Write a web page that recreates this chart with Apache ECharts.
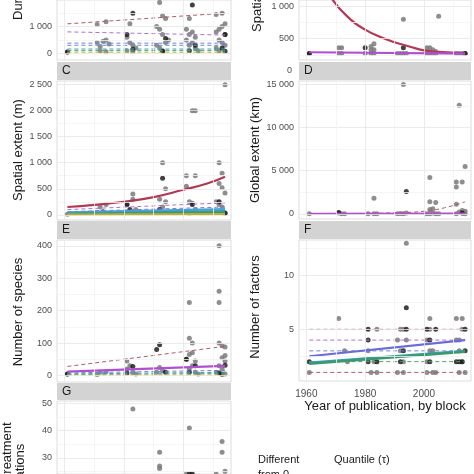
<!DOCTYPE html>
<html>
<head>
<meta charset="utf-8">
<script src="https://cdn.jsdelivr.net/npm/echarts@6/dist/echarts.min.js"></script>
<style>html,body{margin:0;padding:0;background:#fff}#chart{width:474px;height:474px}</style>
</head>
<body>
<div id="chart"></div>
<script>
// panel data: [year, value]
const durGray = [[1961,50],[1971,1080],[1974,1180],[1971,400],[1972,250],[1973,450],[1974,500],[1975,350],[1972,100],[1974,60],
  [1982,1100],[1981,600],[1982,400],[1983,300],[1984,200],[1981,100],[1983,60],[1992,1900],[1993,1400],[1994,1300],[1991,1000],[1992,900],[1993,700],[1995,500],[1994,400],[1991,300],[1992,200],[1993,100],
  [2002,1300],[2001,900],[2003,800],[2002,700],[2004,600],[2001,500],[2003,400],[2002,300],[2004,200],[2005,100],[2011,1450],[2013,1500],[2014,1100],[2013,1000],[2012,900],[2011,800],[2014,700],[2012,500],[2013,400],[2014,300],[2011,200],[2012,100]];
const durBlack = [[1961,50],[1983,1500],[1981,700],[1983,150],[1994,550],[1993,80],[2003,1800],[2004,300],[2002,100],[2014,700],[2013,200],[2014,80]];
const durLines = [
  { color: '#b05a6a', solid: false, data: [[1961,1100],[2014,1500]] },
  { color: '#b070d0', solid: false, data: [[1961,800],[2014,680]] },
  { color: '#7080d8', solid: false, data: [[1961,380],[2014,380]] },
  { color: '#6090c8', solid: false, data: [[1961,300],[2014,300]] },
  { color: '#40a0b0', solid: false, data: [[1961,160],[2014,160]] },
  { color: '#50a070', solid: false, data: [[1961,100],[2014,100]] },
  { color: '#c0b840', solid: false, data: [[1961,40],[2014,40]] }
];

const spatGray = [[2014,2500],[2003,2000],[2004,2000],[1993,1000],[2012,1000],[2013,800],[2001,750],[2004,750],[2012,600],[1994,500],[2001,550],[2013,520],[2014,420],
  [1983,400],[1983,300],[1992,300],[1994,250],[2002,250],[2003,220],[2011,250],[2012,200],[1981,200],[1972,150],[1974,200],[1984,100],[1993,150],[2004,100],[2013,150],[1961,10],[1971,50],[1991,50],[2001,60],[2014,40]];
const spatBlack = [[1993,700],[1981,200],[1982,100],[1992,100],[2003,200],[2012,250],[1973,60],[2002,30],[2014,30]];
const spatLines = [
  { color: '#b03a55', solid: true, data: [[1961,150],[1970,190],[1980,250],[1990,340],[2000,480],[2008,600],[2014,730]] },
  { color: '#b070d0', solid: false, data: [[1961,100],[2014,230]] },
  { color: '#7080d8', solid: false, data: [[1961,60],[2014,150]] },
  { color: '#4aa0d8', solid: true, data: [[1961,45],[2014,110]] },
  { color: '#3a9ab0', solid: true, data: [[1961,25],[2014,70]] },
  { color: '#3a9a6a', solid: true, data: [[1961,12],[2014,40]] },
  { color: '#c0b030', solid: true, data: [[1961,4],[2014,15]] }
];

const speGray = [[2012,400],[2012,260],[2012,225],[2002,225],[2002,115],[2003,100],[2012,100],[2013,92],[2014,88],[2003,70],[2002,65],[2014,62],[2013,55],[2001,50],[1981,45],[2004,45],[2014,45],
  [1982,30],[1992,25],[2003,30],[2012,30],[1981,20],[1993,15],[2002,20],[2013,20],[1972,10],[1974,12],[1983,10],[1991,10],[2004,10],[2011,10],[1961,5],[1971,3],[1984,5],[2005,5],[2014,5]];
const speBlack = [[1992,95],[1991,80],[2001,50],[1983,28],[2004,30],[2014,32],[1961,5],[1981,8],[1994,10],[2002,10],[2012,8],[2013,4]];
const speLines = [
  { color: '#b05a6a', solid: false, data: [[1961,28],[2014,90]] },
  { color: '#b050d0', solid: true, data: [[1961,12],[2014,30]] },
  { color: '#7080d8', solid: false, data: [[1961,8],[2014,16]] },
  { color: '#40a0b0', solid: false, data: [[1961,5],[2014,10]] },
  { color: '#50a070', solid: false, data: [[1961,3],[2014,6]] },
  { color: '#c0b840', solid: false, data: [[1961,1],[2014,2]] }
];

const trtGray = [[1983,48],[2002,41],[2013,36],[1992,32],[2013,32],[1992,27],[1992,26],[2001,24],[2011,24],[2014,25]];
const trtBlack = [[2002,24],[2003,24]];
const trtLines = [];

const grainGray = [[1993,800],[2005,850],[1983,420],[1982,380],[1982,330],[1983,330],[1971,360],[1972,360],[2001,360],[2002,360],[2003,330],[2004,300],
  [1961,270],[1971,270],[1972,270],[1980,270],[1982,270],[1983,270],[1991,270],[1992,270],[1993,270],[1994,270],[2001,270],[2002,270],[2003,270],[2004,270],[2011,270],[2012,270],[2013,270],[2014,270]];
const grainBlack = [[1980,360],[1993,360],[1961,270],[2014,270]];
const grainLines = [
  { color: '#b03a55', solid: true, data: [[1961,2000],[1965,1450],[1969,1100],[1975,800],[1980,640],[1985,530],[1990,445],[1995,380],[2000,320],[2005,295],[2014,275]] },
  { color: '#b050d0', solid: true, data: [[1961,290],[2014,270]] }
];

const globGray = [[1993,15000],[2012,12600],[2014,5500],[2002,4200],[2011,3700],[2013,3700],[2011,3100],[1983,1800],[2002,1400],[2004,1300],[2011,1100],[2003,600],[2002,500],[2013,400],[2014,300],
  [1961,0],[1971,100],[1972,0],[1973,0],[1981,0],[1983,0],[1984,0],[1991,0],[1992,50],[1993,0],[1994,100],[2001,0],[2002,0],[2003,100],[2004,0],[2005,0],[2011,0],[2012,200],[2013,100],[2014,0]];
const globBlack = [[1994,2600],[1971,150],[2013,100]];
const globLines = [
  { color: '#b05a6a', solid: false, data: [[1961,0],[1980,50],[1990,120],[2000,300],[2007,700],[2014,1400]] },
  { color: '#b050d0', solid: true, data: [[1961,10],[2014,40]] }
];

const facGray = [[1994,13],[1971,6],[2002,6],[2011,6],[2013,6],[1973,3],[1984,5],[1991,4],[1992,3],[1993,2],[2002,5],[2001,4],[2003,3],[2004,1],[2011,4],[2012,3],[2013,2],[2014,1],
  [1961,1],[1982,1],[1984,1],[1991,1],[1993,1],[2001,1],[2003,1],[2012,1],[1974,2],[1983,2],[1992,5],[1993,5],[2001,2],[2002,3],[2012,4],[2013,5],[1981,3],[1994,4]];
const facBlack = [[1994,7],[1961,2],[1981,5],[1981,4],[1981,2],[1984,2],[1992,2],[1993,3],[1994,5],[2001,5],[2002,4],[2004,5],[2002,2],[2011,2],[2012,2],[2014,5],[2014,3],[2013,2]];
const facLines = [
  { color: '#b05a6a', solid: false, data: [[1961,5],[2014,5]] },
  { color: '#b070d0', solid: false, data: [[1961,4],[2014,4]] },
  { color: '#7080d8', solid: false, data: [[1961,3],[2014,3]] },
  { color: '#50a070', solid: false, data: [[1961,2],[2014,2]] },
  { color: '#b05a6a', solid: false, data: [[1961,1],[2014,1]] },
  { color: '#6a6ad8', solid: true, data: [[1961,2.5],[2014,4]] },
  { color: '#3a9ab0', solid: true, data: [[1961,1.9],[2014,3]] },
  { color: '#3a9a6a', solid: true, data: [[1961,1.8],[2014,2.9]] }
];

const xTickLabels = [1960, 1980, 2000];

const panels = [
  { left: 57, top: -5, height: 65, min: -250, max: 1990, step: 250, every: 1000, gray: durGray, black: durBlack, lines: durLines },
  { left: 57, top: 81, height: 139, min: -100, max: 2570, step: 100, every: 500, gray: spatGray, black: spatBlack, lines: spatLines },
  { left: 57, top: 240, height: 142, min: -20, max: 418, step: 20, every: 100, gray: speGray, black: speBlack, lines: speLines },
  { left: 57, top: 401, height: 73, min: 24, max: 51, step: 1, every: 10, gray: trtGray, black: trtBlack, lines: trtLines },
  { left: 299, top: -5, height: 65, min: 170, max: 1100, step: 10, every: 500, gray: grainGray, black: grainBlack, lines: grainLines },
  { left: 299, top: 81, height: 138, min: -600, max: 15400, step: 200, every: 5000, gray: globGray, black: globBlack, lines: globLines },
  { left: 299, top: 240, height: 141, min: 0.2, max: 13.3, step: 0.2, every: 5, gray: facGray, black: facBlack, lines: facLines, xlabels: true }
];

const isMult = (v, m) => Math.abs(v / m - Math.round(v / m)) < 1e-6;
const fmt = v => v >= 1000 ? String(Math.round(v)).replace(/\B(?=(\d{3})+(?!\d))/g, ' ') : String(Math.round(v));

const grid = [], xAxis = [], yAxis = [], series = [];
panels.forEach((p, i) => {
  grid.push({ left: p.left, top: p.top, width: p.left < 100 ? 174 : 172, height: p.height, show: true, borderColor: '#c8c8c8', borderWidth: 0.6, backgroundColor: '#fff' });
  xAxis.push({ type: 'value', gridIndex: i, min: 1957.5, max: 2016, interval: 2.5, splitLine: { show: false }, axisLine: { show: false }, axisTick: { show: false },
    axisLabel: { show: !!p.xlabels, fontSize: 10, color: '#4d4d4d', margin: 8, formatter: v => xTickLabels.includes(v) ? String(v) : '' } });
  yAxis.push({ type: 'value', gridIndex: i, min: p.min, max: p.max, interval: p.step, splitLine: { show: false }, axisLine: { show: false }, axisTick: { show: false },
    axisLabel: { fontSize: 9, color: '#4d4d4d', margin: 5, formatter: v => (v >= -1e-9 && isMult(v, p.every)) ? fmt(v) : '' } });
  // background grid lines
  const gl = [];
  for (let y = Math.ceil(p.min / (p.every / 2)) * (p.every / 2); y <= p.max; y += p.every / 2) {
    gl.push({ yAxis: y, lineStyle: { color: isMult(y, p.every) ? '#e6e6e6' : '#f2f2f2' } });
  }
  for (let x = 1960; x <= 2010; x += 10) gl.push({ xAxis: x, lineStyle: { color: x % 20 === 0 ? '#e6e6e6' : '#f2f2f2' } });
  series.push({ type: 'line', xAxisIndex: i, yAxisIndex: i, data: [], z: 1,
    markLine: { silent: true, symbol: 'none', label: { show: false }, lineStyle: { type: 'solid', width: 0.8 }, data: gl } });
  series.push({ type: 'scatter', xAxisIndex: i, yAxisIndex: i, data: p.gray, symbolSize: 5, z: 3, itemStyle: { color: '#7a7a7a', opacity: 0.85 } });
  series.push({ type: 'scatter', xAxisIndex: i, yAxisIndex: i, data: p.black, symbolSize: 5, z: 3, itemStyle: { color: '#111' } });
  p.lines.forEach(l => series.push({ type: 'line', xAxisIndex: i, yAxisIndex: i, data: l.data, smooth: l.data.length > 2, showSymbol: false, z: 4,
    lineStyle: { color: l.color, width: l.solid ? 2.2 : 1, type: l.solid ? 'solid' : [4, 3] } }));
});

const strip = (x, y, w, h, letter) => [
  { type: 'rect', shape: { x, y, width: w, height: h }, style: { fill: '#d3d3d3' }, z: 10 },
  { type: 'text', x: x + 5, y: y + h / 2, style: { text: letter, fontSize: 12, fill: '#1a1a1a', verticalAlign: 'middle' }, z: 11 }
];
const vname = (x, y, text, align) => ({ type: 'text', x, y, rotation: Math.PI / 2,
  style: { text, fontSize: 13, fill: '#1a1a1a', align: align || 'center', verticalAlign: 'middle', textAlign: align || 'center', fontFamily: 'Liberation Sans' }, z: 11 });

const graphic = [].concat(
  strip(57, 62, 174, 18, 'C'), strip(299, 62, 172, 18, 'D'),
  strip(57, 221, 174, 18, 'E'), strip(299, 221, 172, 18, 'F'),
  strip(57, 383, 174, 17, 'G'),
  [
    vname(18, 20, 'Duration (days)', 'left'),
    vname(18, 150, 'Spatial extent (m)'),
    vname(18, 312, 'Number of species'),
    vname(14, 482, 'Number of treatment\ncombinations'),
    vname(257, 32, 'Spatial grain (m)', 'left'),
    vname(255, 150, 'Global extent (km)'),
    vname(255, 307, 'Number of factors'),
    { type: 'text', x: 292, y: 71, style: { text: '0', fontSize: 9, fill: '#4d4d4d', textAlign: 'right', textVerticalAlign: 'middle' } },
    { type: 'text', x: 385, y: 406, style: { text: 'Year of publication, by block', fontSize: 13, fill: '#1a1a1a', textAlign: 'center', textVerticalAlign: 'middle', fontFamily: 'Liberation Sans' } },
    { type: 'text', x: 258, y: 452, style: { text: 'Different\nfrom 0', fontSize: 11, lineHeight: 15, fill: '#1a1a1a', fontFamily: 'Liberation Sans' } },
    { type: 'text', x: 334, y: 454, style: { text: 'Quantile (τ)', fontSize: 11, fill: '#1a1a1a', fontFamily: 'Liberation Sans' } }
  ]
);

const chart = echarts.init(document.getElementById('chart'), null, { renderer: 'canvas' });
chart.setOption({
  animation: false,
  textStyle: { fontFamily: 'Liberation Sans' },
  grid, xAxis, yAxis, series, graphic
});
</script>
</body>
</html>
